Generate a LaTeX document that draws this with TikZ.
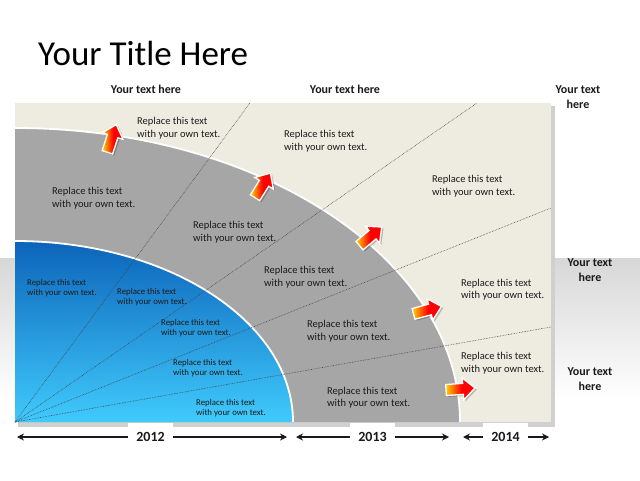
\documentclass[tikz,border=0pt]{standalone}
\usepackage{fontspec}
\setmainfont{Carlito}
\usetikzlibrary{arrows.meta}
\definecolor{cream}{RGB}{238,236,225}
\definecolor{midgray}{RGB}{166,166,166}
\definecolor{bluetop}{RGB}{12,100,186}
\definecolor{bluebot}{RGB}{64,202,252}
\definecolor{txt}{RGB}{26,26,26}
\definecolor{arrred}{RGB}{255,0,0}
\definecolor{arrorange}{RGB}{255,196,0}
\definecolor{bandgray}{RGB}{215,215,215}
\definecolor{shadowgray}{RGB}{208,208,208}
\pgfdeclarehorizontalshading{growshade}{100bp}{color(0bp)=(arrorange); color(27bp)=(arrorange); color(52bp)=(arrred); color(100bp)=(arrred)}
\tikzset{
 bodytext/.style={font=\fontsize{10.5}{12.6}\selectfont, text=txt, align=left, anchor=west, inner sep=0pt},
 smalltext/.style={font=\fontsize{8.8}{10.4}\selectfont, text=txt, align=left, anchor=west, inner sep=0pt},
 headtext/.style={font=\fontsize{12}{15}\selectfont\bfseries, text=txt, align=center, inner sep=0pt},
 yeartext/.style={font=\fontsize{14}{16}\selectfont\bfseries, text=txt, fill=white, minimum width=45pt, minimum height=29pt, inner sep=0pt},
 axisarrow/.style={line width=2.4pt, draw=txt, -{Stealth[length=7pt,width=7pt]}},
 rayline/.style={densely dotted, line width=0.6pt, draw=black!75},
 arcborder/.style={draw=white, line width=1.8pt},
 growfill/.style={shading=growshade, draw=white, line width=1.3pt, line join=miter},
}
\newcommand\growarrow[3]{%
 \begin{scope}[shift={(#1+1.8,#2-1.5)}, rotate=#3]
  \fill[black, opacity=0.22] (-15,-5.5) -- (2,-5.5) -- (2,-11) -- (14,0) -- (2,11) -- (2,5.5) -- (-15,5.5) -- cycle;
 \end{scope}
 \begin{scope}[shift={(#1,#2)}, rotate=#3]
  \shade[growfill] (-15,-5.5) -- (2,-5.5) -- (2,-11) -- (14,0) -- (2,11) -- (2,5.5) -- (-15,5.5) -- cycle;
 \end{scope}}
\begin{document}
\begin{tikzpicture}[x=1pt,y=1pt]
\useasboundingbox (0,0) rectangle (640,480);
\fill[white] (0,0) rectangle (640,480);
% background band
\shade[top color=bandgray, bottom color=white] (0,80) rectangle (640,222);
% panel
\fill[shadowgray] (18,53) rectangle (555,374);
\fill[cream] (15,58) rectangle (551,377);
% gray quarter ellipse
\fill[midgray] (15,58) -- (460,58) arc[start angle=0, end angle=90, x radius=445pt, y radius=294pt] -- cycle;
\draw[arcborder] (460,58) arc[start angle=0, end angle=90, x radius=445pt, y radius=294pt];
% blue quarter ellipse
\shade[top color=bluetop, bottom color=bluebot] (15,58) -- (293,58) arc[start angle=0, end angle=90, x radius=278pt, y radius=181pt] -- cycle;
\draw[arcborder] (293,58) arc[start angle=0, end angle=90, x radius=278pt, y radius=181pt];
% rays
\coordinate (O) at (15,58);
\coordinate (r1) at (250,377);
\coordinate (r2) at (477,377);
\coordinate (r3) at (551,272);
\coordinate (r4) at (551,153);
\draw[rayline] (O) -- (r1);
\draw[rayline] (O) -- (r2);
\draw[rayline] (O) -- (r3);
\draw[rayline] (O) -- (r4);
% title
\node[anchor=base west, inner sep=0pt, font=\fontsize{35}{40}\selectfont, text=black] (title) at (38,414.5) {Your Title Here};
% headers
\node[headtext] (h1) at (146,390.5) {Your text here};
\node[headtext] (h2) at (345,390.5) {Your text here};
\node[headtext] (h3) at (578,382.5) {Your text\\here};
\node[headtext] (h4) at (590,209.5) {Your text\\here};
\node[headtext] (h5) at (590,100.5) {Your text\\here};
% cream texts
\node[bodytext] (c1) at (137,352) {Replace this text\\with your own text.};
\node[bodytext] (c2) at (284,339) {Replace this text\\with your own text.};
\node[bodytext] (c3) at (432,293.5) {Replace this text\\with your own text.};
\node[bodytext] (c4) at (461,190.5) {Replace this text\\with your own text.};
\node[bodytext] (c5) at (461,117) {Replace this text\\with your own text.};
% gray texts
\node[bodytext] (g1) at (52,281.5) {Replace this text\\with your own text.};
\node[bodytext] (g2) at (193,247.5) {Replace this text\\with your own text.};
\node[bodytext] (g3) at (264,202.5) {Replace this text\\with your own text.};
\node[bodytext] (g4) at (307,149) {Replace this text\\with your own text.};
\node[bodytext] (g5) at (327,82.5) {Replace this text\\with your own text.};
% blue texts
\node[smalltext] (b1) at (27,192) {Replace this text\\with your own text.};
\node[smalltext] (b2) at (117,183) {Replace this text\\with your own text.};
\node[smalltext] (b3) at (161,152) {Replace this text\\with your own text.};
\node[smalltext] (b4) at (173,112) {Replace this text\\with your own text.};
\node[smalltext] (b5) at (196,72) {Replace this text\\with your own text.};
% growth arrows
\growarrow{112}{342}{72}
\growarrow{263}{295}{58}
\growarrow{371}{244}{40}
\growarrow{428}{170}{15}
\growarrow{461}{91}{4}
% time axis
\node[yeartext] (y12) at (150.5,43) {2012};
\node[yeartext] (y13) at (372.5,43) {2013};
\node[yeartext] (y14) at (505.5,43) {2014};
\coordinate (t12a) at (17,43);
\coordinate (t12b) at (287,43);
\coordinate (t13a) at (296,43);
\coordinate (t13b) at (449,43);
\coordinate (t14a) at (463,43);
\coordinate (t14b) at (549,43);
\draw[axisarrow] (y12.west) -- (t12a);
\draw[axisarrow] (y12.east) -- (t12b);
\draw[axisarrow] (y13.west) -- (t13a);
\draw[axisarrow] (y13.east) -- (t13b);
\draw[axisarrow] (y14.west) -- (t14a);
\draw[axisarrow] (y14.east) -- (t14b);
\end{tikzpicture}
\end{document}
